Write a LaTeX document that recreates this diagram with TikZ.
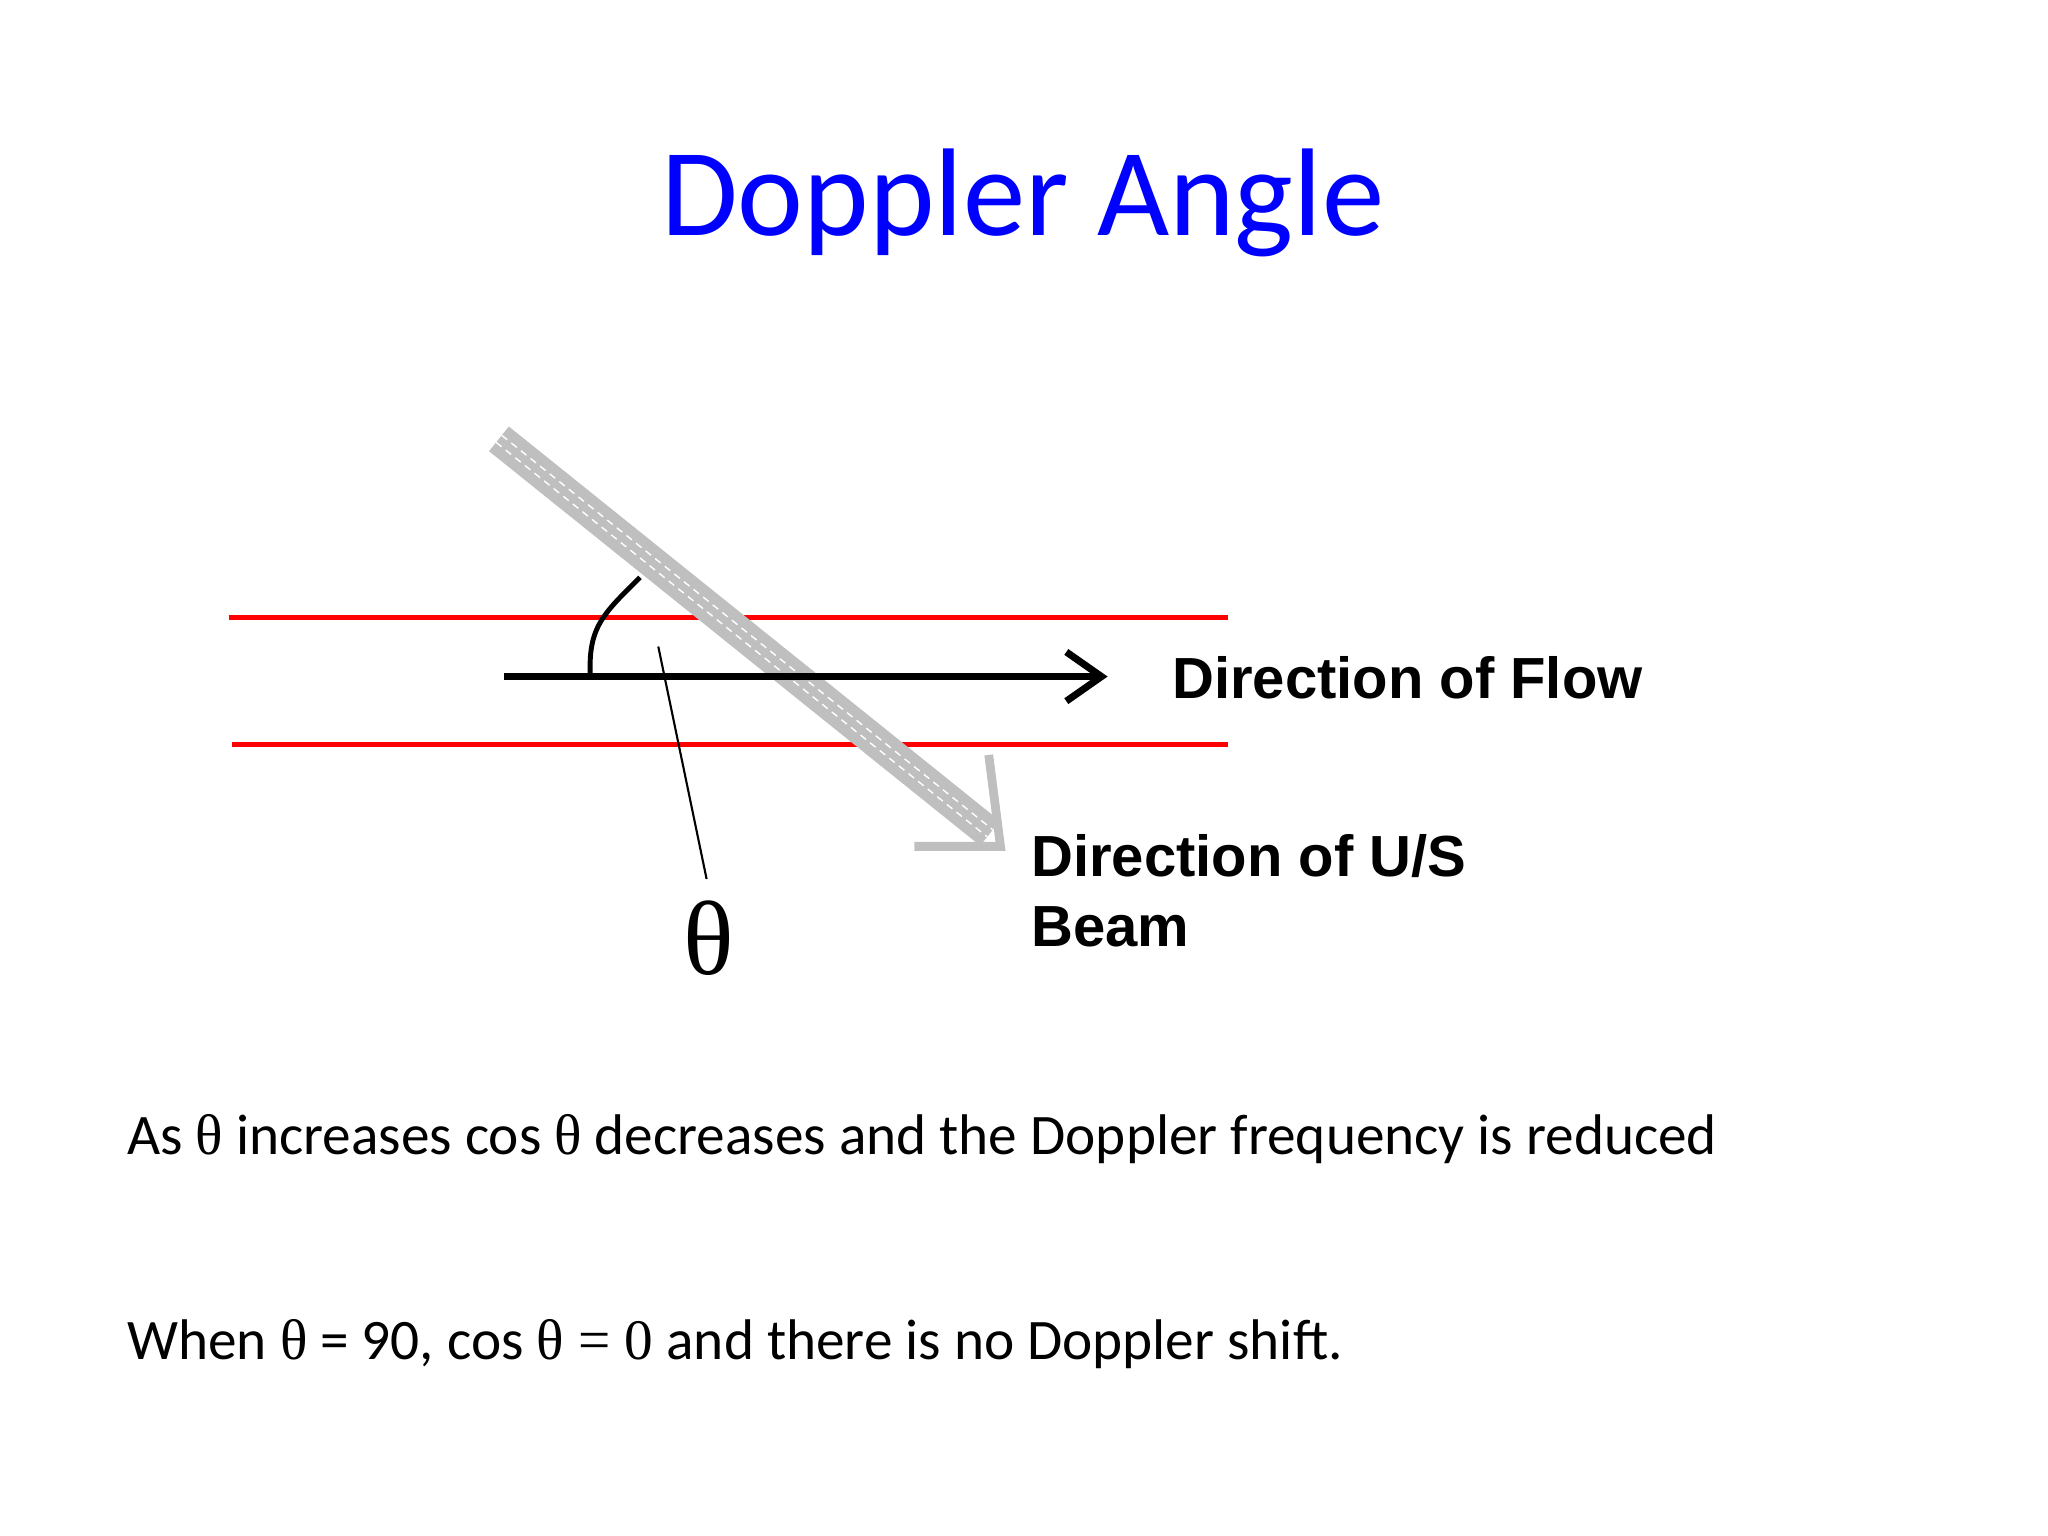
\documentclass[tikz,border=0pt]{standalone}
\usepackage{fontspec}
\setmainfont{Carlito}
\newfontfamily\arialbf{Liberation Sans}
\newfontfamily\serifth{Liberation Serif}
\usetikzlibrary{arrows.meta}
\begin{document}
\begin{tikzpicture}[x=0.013061cm,y=-0.013061cm,
        redline/.style={red, line width=1.5pt},
        labeltext/.style={font=\arialbf\bfseries\fontsize{16.5}{20}\selectfont, anchor=west, inner sep=0pt, align=left},
        bodytext/.style={font=\fontsize{16.3}{19}\selectfont, anchor=base west, inner sep=0pt},
    ]
        \useasboundingbox (0,0) rectangle (1568,1176);
        %Title
        \node[text=blue, font=\fontsize{35.5}{42}\selectfont, anchor=base] (title) at (783,180) {Doppler Angle};

        %Vessel walls
        \coordinate (wall1a) at (175,473);
        \coordinate (wall1b) at (940,473);
        \coordinate (wall2a) at (178,570);
        \coordinate (wall2b) at (940,570);
        \draw[redline] (wall1a) -- (wall1b);
        \draw[redline] (wall2a) -- (wall2b);

        %Beam
        \coordinate (beams) at (382,336);
        \coordinate (beame) at (758,638);
        \coordinate (tipl) at (700,648);
        \coordinate (tipt) at (766,648);
        \coordinate (tipu) at (757,578);
        \draw[line width=9pt, gray!50] (beams) -- (beame);
        \draw[line width=0.4pt, white, dash pattern=on 2pt off 1.5pt, transform canvas={xshift=-0.8pt,yshift=-1pt}] (beams) -- (beame);
        \draw[line width=0.4pt, white, dash pattern=on 2pt off 1.5pt, transform canvas={xshift=0.8pt,yshift=1pt}] (beams) -- (beame);
        \draw[line width=2.5pt, gray!50] (tipl) -- (tipt) -- (tipu);

        %Flow arrow
        \coordinate (flows) at (386,518);
        \coordinate (flowe) at (848,518);
        \draw[line width=2pt, -{Straight Barb[length=10pt,width=14pt,line width=2pt]}] (flows) -- (flowe);

        %Angle
        \coordinate (arcs) at (452,518);
        \coordinate (arce) at (490,442);
        \draw[line width=1.4pt] (arcs) .. controls (450,480) and (462,470) .. (arce);
        \node[font=\serifth\fontsize{30}{34}\selectfont, inner sep=0pt] (theta) at (543,718) {θ};
        \coordinate (pointa) at (504,495);
        \coordinate (pointb) at (541,673);
        \draw[line width=0.6pt] (pointa) -- (pointb);

        %Labels
        \node[labeltext] (flow) at (897,519) {Direction of Flow};
        \node[labeltext] (beam) at (789,682) {Direction of U/S\\Beam};

        %Text
        \node[bodytext] (line1) at (97,884) {As {\serifth θ} increases cos {\serifth θ} decreases and the Doppler frequency is reduced};
        \node[bodytext] (line2) at (97,1041) {When {\serifth θ} = 90, cos {\serifth θ = 0} and there is no Doppler shift.};
\end{tikzpicture}
\end{document}
